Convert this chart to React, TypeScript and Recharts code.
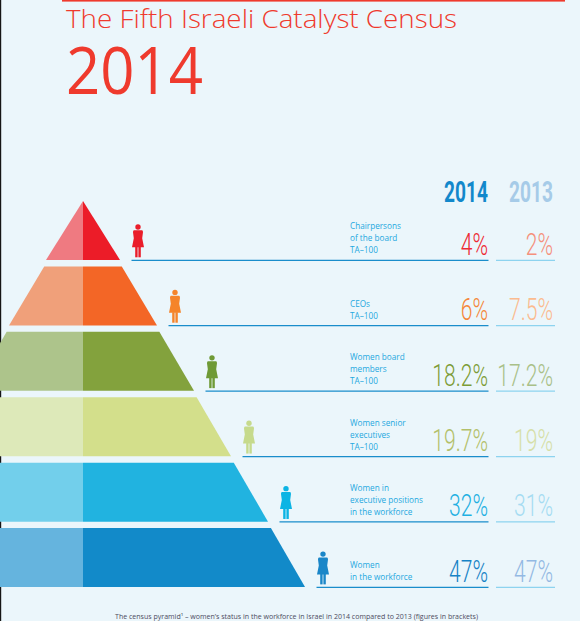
import { BarChart, Bar, XAxis, YAxis } from "recharts";

// census pyramid, top tier first
const levels = [1, 2, 3, 4, 5, 6];
const labelLines = [
  ["Chairpersons", "of the board", "TA–100"],
  ["CEOs", "TA–100"],
  ["Women board", "members", "TA–100"],
  ["Women senior", "executives", "TA–100"],
  ["Women in", "executive positions", "in the workforce"],
  ["Women", "in the workforce"],
];
const values2014 = [4, 6, 18.2, 19.7, 32, 47];
const values2013 = [2, 7.5, 17.2, 19, 31, 47];
const yearLabels = ["2014", "2013"];

const tierLight = ["#ef7a81", "#f0a07a", "#adc48b", "#dde9b9", "#72cfeb", "#65b4de"];
const tierDark = ["#ec1c28", "#f36626", "#83a23d", "#d3df8b", "#21b3e0", "#128ac9"];
const iconColors = ["#ea1d2a", "#f5842a", "#6f9a36", "#c6da8c", "#0cb4e4", "#1a86c8"];
const color2014 = ["#ee2a34", "#f5873a", "#7d9c36", "#b3c06a", "#1eb0e2", "#1783c6"];
const color2013 = ["#f5907c", "#fbbb8f", "#a9c088", "#d6dfa8", "#a5dcf2", "#93b9e3"];

const data = levels.map((level, i) => ({
  name: labelLines[i].join(" "),
  level,
  v2014: values2014[i],
  v2013: values2013[i],
}));

const BG = "#ebf6fb";
const GAP = 6;
const fmt = (v: number) => `${v}%`;

function Woman({ cx, bottom, color }: { cx: number; bottom: number; color: string }) {
  const b = bottom;
  return (
    <g fill={color}>
      <circle cx={cx} cy={b - 30.3} r={2.7} />
      <path
        d={`M${cx - 4.2},${b - 27} L${cx + 4.2},${b - 27} Q${cx + 5},${b - 26.5} ${cx + 5},${b - 25}
           L${cx + 4.2},${b - 19} L${cx + 6},${b - 10} L${cx - 6},${b - 10} L${cx - 4.2},${b - 19}
           L${cx - 5},${b - 25} Q${cx - 5},${b - 26.5} ${cx - 4.2},${b - 27} Z`}
      />
      <rect x={cx - 2.8} y={b - 10.5} width={2.4} height={10.5} />
      <rect x={cx + 0.4} y={b - 10.5} width={2.4} height={10.5} />
    </g>
  );
}

function TierRow(props: any) {
  const { x, y, width, height, index } = props;
  const step = height + GAP;
  const apexY = y - index * step;
  const bottom = y + height;
  const topHalf = (width * (y - apexY)) / (bottom - apexY);
  const lineY = bottom + 0.3;
  const lineStart = x + width + 11.5;
  const lines = labelLines[index];
  return (
    <g>
      <polygon
        points={`${x - topHalf},${y} ${x},${y} ${x},${bottom} ${x - width},${bottom}`}
        fill={tierLight[index]}
      />
      <polygon
        points={`${x},${y} ${x + topHalf},${y} ${x + width},${bottom} ${x},${bottom}`}
        fill={tierDark[index]}
      />
      <Woman cx={lineStart + 6.5} bottom={lineY - 3} color={iconColors[index]} />
      <line x1={lineStart} x2={488.5} y1={lineY} y2={lineY} stroke="#1a8dcb" strokeWidth={1.3} />
      <line x1={496} x2={555} y1={lineY} y2={lineY} stroke="#8dd3ef" strokeWidth={1.3} />
      {lines.map((t, k) => (
        <text
          key={k}
          x={350}
          y={lineY - 7 - (lines.length - 1 - k) * 12}
          fontFamily="'Open Sans', sans-serif"
          fontSize={8.2}
          fill="#25a8e0"
        >
          {t}
        </text>
      ))}
      <text
        transform={`translate(488,${lineY - 5.5}) scale(0.68,1)`}
        textAnchor="end"
        fontFamily="Roboto, sans-serif"
        fontWeight={300}
        fontSize={31}
        fill={color2014[index]}
      >
        {fmt(values2014[index])}
      </text>
      <text
        transform={`translate(553,${lineY - 5.5}) scale(0.68,1)`}
        textAnchor="end"
        fontFamily="Roboto, sans-serif"
        fontWeight={300}
        fontSize={31}
        fill={color2013[index]}
      >
        {fmt(values2013[index])}
      </text>
    </g>
  );
}

export default function App() {
  return (
    <div style={{ position: "absolute", left: 0, top: 0, width: 580, height: 621, background: BG, overflow: "hidden" }}>
      <BarChart
        width={580}
        height={621}
        data={data}
        layout="vertical"
        barCategoryGap={GAP / 2}
        margin={{ top: 198, right: 275, bottom: 30.5, left: 83 }}
      >
        <XAxis type="number" domain={[0, 6]} hide />
        <YAxis type="category" dataKey="name" hide />
        <Bar dataKey="level" shape={TierRow} isAnimationActive={false} />

        <rect x={62} y={0} width={503} height={1.6} fill="#ef3a2d" />
        <text
          x={66}
          y={27.5}
          fontFamily="'Open Sans', sans-serif"
          fontWeight={300}
          fontSize={25.5}
          fill="#ef3a2d"
          textLength={391}
          lengthAdjust="spacingAndGlyphs"
        >
          The Fifth Israeli Catalyst Census
        </text>
        <text
          x={66}
          y={94}
          fontFamily="'Open Sans', sans-serif"
          fontSize={65}
          fill="#ef3a2d"
          textLength={137}
          lengthAdjust="spacingAndGlyphs"
        >
          2014
        </text>
        <text
          transform="translate(488,202) scale(0.66,1)"
          textAnchor="end"
          fontFamily="Roboto, sans-serif"
          fontWeight={700}
          fontSize={29}
          fill="#1288cb"
        >
          {yearLabels[0]}
        </text>
        <text
          transform="translate(553,202) scale(0.66,1)"
          textAnchor="end"
          fontFamily="Roboto, sans-serif"
          fontWeight={700}
          fontSize={29}
          fill="#a6cbe8"
        >
          {yearLabels[1]}
        </text>
        <text
          x={115}
          y={619}
          fontFamily="'Open Sans', sans-serif"
          fontSize={7}
          fill="#4b4b5e"
          textLength={363}
          lengthAdjust="spacingAndGlyphs"
        >
          The census pyramid¹ – women’s status in the workforce in Israel in 2014 compared to 2013 (figures in brackets)
        </text>
        <rect x={0} y={0} width={1.2} height={621} fill="#151515" />
      </BarChart>
    </div>
  );
}
